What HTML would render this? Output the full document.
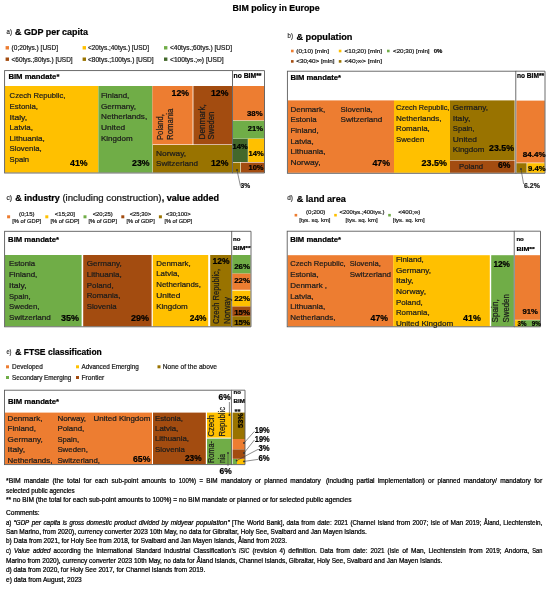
<!DOCTYPE html>
<html><head><meta charset="utf-8"><title>BIM policy in Europe</title>
<style>
html,body{margin:0;padding:0;background:#fff;}
text{stroke-width:0.22px;}
svg{display:block;font-family:"Liberation Sans",sans-serif;filter:blur(0.4px);}
</style></head><body>
<svg width="550" height="589" viewBox="0 0 550 589">
<rect width="550" height="589" fill="#fff"/>
<text x="232.6" y="10.7" font-size="9" font-weight="bold" textLength="87.0" lengthAdjust="spacingAndGlyphs" fill="#000" stroke="#000">BIM policy in Europe</text>
<text x="6.6" y="33.7" font-size="7.4" textLength="5.4" lengthAdjust="spacingAndGlyphs" fill="#333" stroke="#333">a)</text>
<text x="15.0" y="35.0" font-size="9.2" font-weight="bold" textLength="73.0" lengthAdjust="spacingAndGlyphs" fill="#000" stroke="#000">&amp; GDP per capita</text>
<rect x="5.6" y="46.1" width="3.4" height="3.4" fill="#ED7D31"/>
<text x="11.6" y="50.2" font-size="6.5" textLength="46.4" lengthAdjust="spacingAndGlyphs" fill="#1c1c1c" stroke="#1c1c1c">(0;20tys.) [USD]</text>
<rect x="82.6" y="46.1" width="3.4" height="3.4" fill="#FFC000"/>
<text x="88.0" y="50.2" font-size="6.5" textLength="61.0" lengthAdjust="spacingAndGlyphs" fill="#1c1c1c" stroke="#1c1c1c">&lt;20tys.;40tys.) [USD]</text>
<rect x="164.0" y="46.1" width="3.4" height="3.4" fill="#70AD47"/>
<text x="170.0" y="50.2" font-size="6.5" textLength="62.0" lengthAdjust="spacingAndGlyphs" fill="#1c1c1c" stroke="#1c1c1c">&lt;40tys.;60tys.) [USD]</text>
<rect x="5.6" y="57.5" width="3.4" height="3.4" fill="#A34C10"/>
<text x="11.6" y="61.6" font-size="6.5" textLength="61.0" lengthAdjust="spacingAndGlyphs" fill="#1c1c1c" stroke="#1c1c1c">&lt;60tys.;80tys.) [USD]</text>
<rect x="82.6" y="57.5" width="3.4" height="3.4" fill="#997300"/>
<text x="88.0" y="61.6" font-size="6.5" textLength="65.6" lengthAdjust="spacingAndGlyphs" fill="#1c1c1c" stroke="#1c1c1c">&lt;80tys.;100tys.) [USD]</text>
<rect x="164.0" y="57.5" width="3.4" height="3.4" fill="#43682B"/>
<text x="170.0" y="61.6" font-size="6.5" textLength="53.6" lengthAdjust="spacingAndGlyphs" fill="#1c1c1c" stroke="#1c1c1c">&lt;100tys.;∞) [USD]</text>
<rect x="5.0" y="86.0" width="93.4" height="86.6" fill="#FFC000"/>
<rect x="98.4" y="86.0" width="54.0" height="86.6" fill="#70AD47"/>
<rect x="152.4" y="86.0" width="40.2" height="58.4" fill="#ED7D31"/>
<rect x="193.4" y="86.0" width="38.6" height="58.4" fill="#A34C10"/>
<rect x="152.8" y="145.0" width="79.2" height="27.6" fill="#997300"/>
<rect x="233.0" y="86.0" width="31.5" height="34.4" fill="#ED7D31"/>
<rect x="233.0" y="120.8" width="31.5" height="17.8" fill="#70AD47"/>
<rect x="233.0" y="138.8" width="14.8" height="23.2" fill="#43682B"/>
<rect x="248.2" y="138.8" width="16.3" height="23.2" fill="#FFC000"/>
<rect x="233.0" y="162.6" width="7.4" height="10.0" fill="#997300"/>
<rect x="241.0" y="162.6" width="23.5" height="10.0" fill="#A34C10"/>
<rect x="4.6" y="70.6" width="227.9" height="102.4" fill="none" stroke="#5c5c5c" stroke-width="0.9"/>
<path d="M232.5 70.6H264.5V173.0H232.5" fill="none" stroke="#5c5c5c" stroke-width="0.9"/>
<text x="8.4" y="79.4" font-size="7.5" font-weight="bold" textLength="51.0" lengthAdjust="spacingAndGlyphs" fill="#000" stroke="#000">BIM mandate*</text>
<text x="233.6" y="78.0" font-size="6.6" font-weight="bold" textLength="27.8" lengthAdjust="spacingAndGlyphs" fill="#000" stroke="#000">no BIM**</text>
<text x="9.6" y="98.4" font-size="7.8" textLength="55.9" lengthAdjust="spacingAndGlyphs" fill="#1c1c1c" stroke="#1c1c1c">Czech Republic,</text>
<text x="9.6" y="109.0" font-size="7.8" textLength="28.4" lengthAdjust="spacingAndGlyphs" fill="#1c1c1c" stroke="#1c1c1c">Estonia,</text>
<text x="9.6" y="119.6" font-size="7.8" textLength="17.6" lengthAdjust="spacingAndGlyphs" fill="#1c1c1c" stroke="#1c1c1c">Italy,</text>
<text x="9.6" y="130.2" font-size="7.8" textLength="23.3" lengthAdjust="spacingAndGlyphs" fill="#1c1c1c" stroke="#1c1c1c">Latvia,</text>
<text x="9.6" y="140.8" font-size="7.8" textLength="35.2" lengthAdjust="spacingAndGlyphs" fill="#1c1c1c" stroke="#1c1c1c">Lithuania,</text>
<text x="9.6" y="151.4" font-size="7.8" textLength="32.1" lengthAdjust="spacingAndGlyphs" fill="#1c1c1c" stroke="#1c1c1c">Slovenia,</text>
<text x="9.6" y="162.0" font-size="7.8" textLength="19.5" lengthAdjust="spacingAndGlyphs" fill="#1c1c1c" stroke="#1c1c1c">Spain</text>
<text x="70.0" y="165.6" font-size="9.1" font-weight="bold" textLength="17.6" lengthAdjust="spacingAndGlyphs" fill="#000" stroke="#000">41%</text>
<text x="101.0" y="98.0" font-size="7.8" textLength="28.3" lengthAdjust="spacingAndGlyphs" fill="#1c1c1c" stroke="#1c1c1c">Finland,</text>
<text x="101.0" y="108.7" font-size="7.8" textLength="35.1" lengthAdjust="spacingAndGlyphs" fill="#1c1c1c" stroke="#1c1c1c">Germany,</text>
<text x="101.0" y="119.3" font-size="7.8" textLength="46.2" lengthAdjust="spacingAndGlyphs" fill="#1c1c1c" stroke="#1c1c1c">Netherlands,</text>
<text x="101.0" y="129.9" font-size="7.8" textLength="24.2" lengthAdjust="spacingAndGlyphs" fill="#1c1c1c" stroke="#1c1c1c">United</text>
<text x="101.0" y="140.6" font-size="7.8" textLength="31.6" lengthAdjust="spacingAndGlyphs" fill="#1c1c1c" stroke="#1c1c1c">Kingdom</text>
<text x="132.0" y="166.0" font-size="9.1" font-weight="bold" textLength="17.6" lengthAdjust="spacingAndGlyphs" fill="#000" stroke="#000">23%</text>
<text x="171.6" y="95.6" font-size="9.1" font-weight="bold" textLength="17.4" lengthAdjust="spacingAndGlyphs" fill="#000" stroke="#000">12%</text>
<text transform="translate(162.9,140.0) rotate(-90)" font-size="8.4" textLength="26.0" lengthAdjust="spacingAndGlyphs" fill="#1c1c1c" stroke="#1c1c1c">Poland,</text>
<text transform="translate(173.0,140.0) rotate(-90)" font-size="8.4" textLength="31.4" lengthAdjust="spacingAndGlyphs" fill="#1c1c1c" stroke="#1c1c1c">Romania</text>
<text x="211.0" y="95.6" font-size="9.1" font-weight="bold" textLength="17.4" lengthAdjust="spacingAndGlyphs" fill="#000" stroke="#000">12%</text>
<text transform="translate(204.6,139.4) rotate(-90)" font-size="8.4" textLength="35.2" lengthAdjust="spacingAndGlyphs" fill="#1c1c1c" stroke="#1c1c1c">Denmark,</text>
<text transform="translate(214.2,139.4) rotate(-90)" font-size="8.4" textLength="27.8" lengthAdjust="spacingAndGlyphs" fill="#1c1c1c" stroke="#1c1c1c">Sweden</text>
<text x="156.0" y="155.6" font-size="7.8" textLength="30.1" lengthAdjust="spacingAndGlyphs" fill="#1c1c1c" stroke="#1c1c1c">Norway,</text>
<text x="156.0" y="166.0" font-size="7.8" textLength="42.0" lengthAdjust="spacingAndGlyphs" fill="#1c1c1c" stroke="#1c1c1c">Switzerland</text>
<text x="211.0" y="166.0" font-size="9.1" font-weight="bold" textLength="17.4" lengthAdjust="spacingAndGlyphs" fill="#000" stroke="#000">12%</text>
<text x="247.0" y="115.6" font-size="7.9" font-weight="bold" textLength="15.6" lengthAdjust="spacingAndGlyphs" fill="#000" stroke="#000">38%</text>
<text x="247.8" y="130.6" font-size="7.9" font-weight="bold" textLength="15.2" lengthAdjust="spacingAndGlyphs" fill="#000" stroke="#000">21%</text>
<text x="232.6" y="149.0" font-size="7.9" font-weight="bold" textLength="15.2" lengthAdjust="spacingAndGlyphs" fill="#000" stroke="#000">14%</text>
<text x="248.5" y="156.4" font-size="7.9" font-weight="bold" textLength="15.2" lengthAdjust="spacingAndGlyphs" fill="#000" stroke="#000">14%</text>
<text x="248.5" y="169.5" font-size="7.9" font-weight="bold" textLength="15.0" lengthAdjust="spacingAndGlyphs" fill="#000" stroke="#000">10%</text>
<text x="240.6" y="187.8" font-size="8" font-weight="bold" textLength="9.6" lengthAdjust="spacingAndGlyphs" fill="#111" stroke="#111">3%</text>
<line x1="237.0" y1="170.0" x2="240.4" y2="186.0" stroke="#404040" stroke-width="0.6"/>
<circle cx="237.0" cy="170.0" r="0.9" fill="#303030"/>
<text x="287.6" y="38.3" font-size="7.4" textLength="5.4" lengthAdjust="spacingAndGlyphs" fill="#333" stroke="#333">b)</text>
<text x="296.4" y="39.6" font-size="9.2" font-weight="bold" textLength="56.0" lengthAdjust="spacingAndGlyphs" fill="#000" stroke="#000">&amp; population</text>
<rect x="291.0" y="49.7" width="2.6" height="2.6" fill="#ED7D31"/>
<text x="296.3" y="52.8" font-size="5.9" textLength="32.7" lengthAdjust="spacingAndGlyphs" fill="#1c1c1c" stroke="#1c1c1c">(0;10) [mln]</text>
<rect x="338.8" y="49.7" width="2.6" height="2.6" fill="#FFC000"/>
<text x="344.4" y="52.8" font-size="5.9" textLength="37.6" lengthAdjust="spacingAndGlyphs" fill="#1c1c1c" stroke="#1c1c1c">&lt;10;20) [mln]</text>
<rect x="387.0" y="49.7" width="2.6" height="2.6" fill="#70AD47"/>
<text x="393.0" y="52.8" font-size="5.9" textLength="36.6" lengthAdjust="spacingAndGlyphs" fill="#1c1c1c" stroke="#1c1c1c">&lt;20;30) [mln]</text>
<text x="433.8" y="53.2" font-size="6" font-weight="bold" textLength="8.6" lengthAdjust="spacingAndGlyphs" fill="#111" stroke="#111">0%</text>
<rect x="291.0" y="60.1" width="2.6" height="2.6" fill="#A34C10"/>
<text x="296.3" y="63.2" font-size="5.9" textLength="38.1" lengthAdjust="spacingAndGlyphs" fill="#1c1c1c" stroke="#1c1c1c">&lt;30;40&gt; [mln]</text>
<rect x="338.8" y="60.1" width="2.6" height="2.6" fill="#997300"/>
<text x="344.4" y="63.2" font-size="5.9" textLength="37.6" lengthAdjust="spacingAndGlyphs" fill="#1c1c1c" stroke="#1c1c1c">&lt;40;∞&gt; [mln]</text>
<rect x="288.0" y="100.4" width="106.0" height="72.4" fill="#ED7D31"/>
<rect x="394.0" y="100.4" width="56.0" height="72.4" fill="#FFC000"/>
<rect x="450.0" y="100.4" width="64.6" height="59.8" fill="#997300"/>
<rect x="450.0" y="160.6" width="64.6" height="12.2" fill="#A34C10"/>
<rect x="516.4" y="100.6" width="28.4" height="62.0" fill="#ED7D31"/>
<rect x="516.4" y="163.2" width="10.2" height="9.6" fill="#997300"/>
<rect x="527.2" y="163.2" width="17.6" height="9.6" fill="#FFC000"/>
<rect x="287.4" y="71.2" width="228.4" height="102.1" fill="none" stroke="#5c5c5c" stroke-width="0.9"/>
<path d="M515.8 71.2H545.0V173.3H515.8" fill="none" stroke="#5c5c5c" stroke-width="0.9"/>
<text x="290.4" y="79.6" font-size="7.5" font-weight="bold" textLength="50.6" lengthAdjust="spacingAndGlyphs" fill="#000" stroke="#000">BIM mandate*</text>
<text x="517.0" y="78.2" font-size="6.6" font-weight="bold" textLength="27.0" lengthAdjust="spacingAndGlyphs" fill="#000" stroke="#000">no BIM**</text>
<text x="290.4" y="111.6" font-size="7.8" textLength="34.9" lengthAdjust="spacingAndGlyphs" fill="#1c1c1c" stroke="#1c1c1c">Denmark,</text>
<text x="290.4" y="122.3" font-size="7.8" textLength="26.2" lengthAdjust="spacingAndGlyphs" fill="#1c1c1c" stroke="#1c1c1c">Estonia</text>
<text x="290.4" y="133.0" font-size="7.8" textLength="28.3" lengthAdjust="spacingAndGlyphs" fill="#1c1c1c" stroke="#1c1c1c">Finland,</text>
<text x="290.4" y="143.7" font-size="7.8" textLength="23.3" lengthAdjust="spacingAndGlyphs" fill="#1c1c1c" stroke="#1c1c1c">Latvia,</text>
<text x="290.4" y="154.4" font-size="7.8" textLength="35.2" lengthAdjust="spacingAndGlyphs" fill="#1c1c1c" stroke="#1c1c1c">Lithuania,</text>
<text x="290.4" y="165.1" font-size="7.8" textLength="30.1" lengthAdjust="spacingAndGlyphs" fill="#1c1c1c" stroke="#1c1c1c">Norway,</text>
<text x="340.6" y="111.6" font-size="7.8" textLength="32.1" lengthAdjust="spacingAndGlyphs" fill="#1c1c1c" stroke="#1c1c1c">Slovenia,</text>
<text x="340.6" y="122.2" font-size="7.8" textLength="41.7" lengthAdjust="spacingAndGlyphs" fill="#1c1c1c" stroke="#1c1c1c">Switzerland</text>
<text x="372.4" y="166.0" font-size="9.1" font-weight="bold" textLength="17.6" lengthAdjust="spacingAndGlyphs" fill="#000" stroke="#000">47%</text>
<text x="396.0" y="110.0" font-size="7.8" textLength="53.4" lengthAdjust="spacingAndGlyphs" fill="#1c1c1c" stroke="#1c1c1c">Czech Republic,</text>
<text x="396.0" y="120.5" font-size="7.8" textLength="45.6" lengthAdjust="spacingAndGlyphs" fill="#1c1c1c" stroke="#1c1c1c">Netherlands,</text>
<text x="396.0" y="131.0" font-size="7.8" textLength="33.7" lengthAdjust="spacingAndGlyphs" fill="#1c1c1c" stroke="#1c1c1c">Romania,</text>
<text x="396.0" y="141.5" font-size="7.8" textLength="28.3" lengthAdjust="spacingAndGlyphs" fill="#1c1c1c" stroke="#1c1c1c">Sweden</text>
<text x="421.6" y="166.0" font-size="9.1" font-weight="bold" textLength="25.4" lengthAdjust="spacingAndGlyphs" fill="#000" stroke="#000">23.5%</text>
<text x="452.8" y="110.3" font-size="7.8" textLength="35.1" lengthAdjust="spacingAndGlyphs" fill="#1c1c1c" stroke="#1c1c1c">Germany,</text>
<text x="452.8" y="120.8" font-size="7.8" textLength="17.6" lengthAdjust="spacingAndGlyphs" fill="#1c1c1c" stroke="#1c1c1c">Italy,</text>
<text x="452.8" y="131.3" font-size="7.8" textLength="21.7" lengthAdjust="spacingAndGlyphs" fill="#1c1c1c" stroke="#1c1c1c">Spain,</text>
<text x="452.8" y="141.8" font-size="7.8" textLength="24.2" lengthAdjust="spacingAndGlyphs" fill="#1c1c1c" stroke="#1c1c1c">United</text>
<text x="452.8" y="152.3" font-size="7.8" textLength="31.6" lengthAdjust="spacingAndGlyphs" fill="#1c1c1c" stroke="#1c1c1c">Kingdom</text>
<text x="489.0" y="150.6" font-size="9.1" font-weight="bold" textLength="25.0" lengthAdjust="spacingAndGlyphs" fill="#000" stroke="#000">23.5%</text>
<text x="459.0" y="168.8" font-size="7.8" textLength="24.0" lengthAdjust="spacingAndGlyphs" fill="#1c1c1c" stroke="#1c1c1c">Poland</text>
<text x="498.0" y="167.8" font-size="9.1" font-weight="bold" textLength="12.4" lengthAdjust="spacingAndGlyphs" fill="#000" stroke="#000">6%</text>
<text x="522.8" y="157.0" font-size="8" font-weight="bold" textLength="22.8" lengthAdjust="spacingAndGlyphs" fill="#000" stroke="#000">84.4%</text>
<text x="528.0" y="171.4" font-size="8" font-weight="bold" textLength="17.6" lengthAdjust="spacingAndGlyphs" fill="#000" stroke="#000">9.4%</text>
<text x="524.0" y="188.0" font-size="7.2" font-weight="bold" textLength="15.8" lengthAdjust="spacingAndGlyphs" fill="#1a1a1a" stroke="#1a1a1a">6.2%</text>
<line x1="521.0" y1="169.0" x2="523.6" y2="184.0" stroke="#404040" stroke-width="0.6"/>
<circle cx="521.0" cy="169.0" r="0.9" fill="#303030"/>
<text x="6.4" y="199.6" font-size="7.4" textLength="5.6" lengthAdjust="spacingAndGlyphs" fill="#333" stroke="#333">c)</text>
<text x="15.3" y="200.9" font-size="9.2" font-weight="bold" textLength="44.5" lengthAdjust="spacingAndGlyphs" fill="#000" stroke="#000">&amp; industry</text>
<text x="62.4" y="200.9" font-size="9.2" textLength="99.2" lengthAdjust="spacingAndGlyphs" fill="#151515" stroke="#151515">(including construction)</text>
<text x="161.8" y="200.9" font-size="9.2" font-weight="bold" textLength="57.2" lengthAdjust="spacingAndGlyphs" fill="#000" stroke="#000">, value added</text>
<rect x="7.1" y="215.3" width="3.0" height="3.0" fill="#ED7D31"/>
<text x="26.7" y="215.5" font-size="5.9" text-anchor="middle" textLength="15.6" lengthAdjust="spacingAndGlyphs" fill="#1c1c1c" stroke="#1c1c1c">(0;15)</text>
<text x="12.2" y="223.3" font-size="5.9" textLength="29.0" lengthAdjust="spacingAndGlyphs" fill="#1c1c1c" stroke="#1c1c1c">[% of GDP]</text>
<rect x="45.3" y="215.3" width="3.0" height="3.0" fill="#FFC000"/>
<text x="64.9" y="215.5" font-size="5.9" text-anchor="middle" textLength="20.2" lengthAdjust="spacingAndGlyphs" fill="#1c1c1c" stroke="#1c1c1c">&lt;15;20]</text>
<text x="50.4" y="223.3" font-size="5.9" textLength="29.0" lengthAdjust="spacingAndGlyphs" fill="#1c1c1c" stroke="#1c1c1c">[% of GDP]</text>
<rect x="83.5" y="215.3" width="3.0" height="3.0" fill="#70AD47"/>
<text x="102.7" y="215.5" font-size="5.9" text-anchor="middle" textLength="20.1" lengthAdjust="spacingAndGlyphs" fill="#1c1c1c" stroke="#1c1c1c">&lt;20;25)</text>
<text x="88.5" y="223.3" font-size="5.9" textLength="28.5" lengthAdjust="spacingAndGlyphs" fill="#1c1c1c" stroke="#1c1c1c">[% of GDP]</text>
<rect x="121.3" y="215.3" width="3.0" height="3.0" fill="#A34C10"/>
<text x="140.4" y="215.5" font-size="5.9" text-anchor="middle" textLength="21.4" lengthAdjust="spacingAndGlyphs" fill="#1c1c1c" stroke="#1c1c1c">&lt;25;30&gt;</text>
<text x="126.5" y="223.3" font-size="5.9" textLength="28.2" lengthAdjust="spacingAndGlyphs" fill="#1c1c1c" stroke="#1c1c1c">[% of GDP]</text>
<rect x="158.9" y="215.3" width="3.0" height="3.0" fill="#997300"/>
<text x="178.4" y="215.5" font-size="5.9" text-anchor="middle" textLength="24.7" lengthAdjust="spacingAndGlyphs" fill="#1c1c1c" stroke="#1c1c1c">&lt;30;100&gt;</text>
<text x="164.4" y="223.3" font-size="5.9" textLength="27.9" lengthAdjust="spacingAndGlyphs" fill="#1c1c1c" stroke="#1c1c1c">[% of GDP]</text>
<rect x="5.0" y="255.0" width="76.6" height="71.4" fill="#70AD47"/>
<rect x="83.2" y="255.0" width="68.4" height="71.4" fill="#A34C10"/>
<rect x="152.8" y="255.0" width="55.4" height="71.4" fill="#FFC000"/>
<rect x="210.2" y="255.0" width="21.0" height="71.4" fill="#997300"/>
<rect x="232.2" y="255.0" width="18.4" height="18.6" fill="#70AD47"/>
<rect x="232.2" y="273.6" width="18.4" height="16.2" fill="#ED7D31"/>
<rect x="232.2" y="290.6" width="18.4" height="15.9" fill="#FFC000"/>
<rect x="232.2" y="306.5" width="18.4" height="9.7" fill="#A34C10"/>
<rect x="232.2" y="316.2" width="18.4" height="10.2" fill="#997300"/>
<rect x="4.6" y="231.3" width="227.1" height="95.5" fill="none" stroke="#5c5c5c" stroke-width="0.9"/>
<path d="M231.7 231.3H251.0V326.8H231.7" fill="none" stroke="#5c5c5c" stroke-width="0.9"/>
<text x="8.1" y="242.3" font-size="7.5" font-weight="bold" textLength="50.9" lengthAdjust="spacingAndGlyphs" fill="#000" stroke="#000">BIM mandate*</text>
<text x="233.0" y="241.4" font-size="6" font-weight="bold" fill="#000" stroke="#000">no</text>
<text x="233.0" y="250.4" font-size="6" font-weight="bold" textLength="17.6" lengthAdjust="spacingAndGlyphs" fill="#000" stroke="#000">BIM**</text>
<text x="9.0" y="266.3" font-size="7.8" textLength="26.2" lengthAdjust="spacingAndGlyphs" fill="#1c1c1c" stroke="#1c1c1c">Estonia</text>
<text x="9.0" y="277.1" font-size="7.8" textLength="28.3" lengthAdjust="spacingAndGlyphs" fill="#1c1c1c" stroke="#1c1c1c">Finland,</text>
<text x="9.0" y="287.8" font-size="7.8" textLength="17.6" lengthAdjust="spacingAndGlyphs" fill="#1c1c1c" stroke="#1c1c1c">Italy,</text>
<text x="9.0" y="298.6" font-size="7.8" textLength="21.7" lengthAdjust="spacingAndGlyphs" fill="#1c1c1c" stroke="#1c1c1c">Spain,</text>
<text x="9.0" y="309.3" font-size="7.8" textLength="30.5" lengthAdjust="spacingAndGlyphs" fill="#1c1c1c" stroke="#1c1c1c">Sweden,</text>
<text x="9.0" y="320.1" font-size="7.8" textLength="41.8" lengthAdjust="spacingAndGlyphs" fill="#1c1c1c" stroke="#1c1c1c">Switzerland</text>
<text x="61.0" y="320.7" font-size="9.1" font-weight="bold" textLength="18.0" lengthAdjust="spacingAndGlyphs" fill="#000" stroke="#000">35%</text>
<text x="86.7" y="266.3" font-size="7.8" textLength="35.1" lengthAdjust="spacingAndGlyphs" fill="#1c1c1c" stroke="#1c1c1c">Germany,</text>
<text x="86.7" y="277.0" font-size="7.8" textLength="35.2" lengthAdjust="spacingAndGlyphs" fill="#1c1c1c" stroke="#1c1c1c">Lithuania,</text>
<text x="86.7" y="287.7" font-size="7.8" textLength="26.9" lengthAdjust="spacingAndGlyphs" fill="#1c1c1c" stroke="#1c1c1c">Poland,</text>
<text x="86.7" y="298.4" font-size="7.8" textLength="33.7" lengthAdjust="spacingAndGlyphs" fill="#1c1c1c" stroke="#1c1c1c">Romania,</text>
<text x="86.7" y="309.1" font-size="7.8" textLength="29.9" lengthAdjust="spacingAndGlyphs" fill="#1c1c1c" stroke="#1c1c1c">Slovenia</text>
<text x="131.0" y="320.5" font-size="9.1" font-weight="bold" textLength="18.0" lengthAdjust="spacingAndGlyphs" fill="#000" stroke="#000">29%</text>
<text x="156.2" y="265.7" font-size="7.8" textLength="34.6" lengthAdjust="spacingAndGlyphs" fill="#1c1c1c" stroke="#1c1c1c">Denmark,</text>
<text x="156.2" y="276.4" font-size="7.8" textLength="23.3" lengthAdjust="spacingAndGlyphs" fill="#1c1c1c" stroke="#1c1c1c">Latvia,</text>
<text x="156.2" y="287.1" font-size="7.8" textLength="44.8" lengthAdjust="spacingAndGlyphs" fill="#1c1c1c" stroke="#1c1c1c">Netherlands,</text>
<text x="156.2" y="297.8" font-size="7.8" textLength="24.2" lengthAdjust="spacingAndGlyphs" fill="#1c1c1c" stroke="#1c1c1c">United</text>
<text x="156.2" y="308.5" font-size="7.8" textLength="31.6" lengthAdjust="spacingAndGlyphs" fill="#1c1c1c" stroke="#1c1c1c">Kingdom</text>
<text x="189.8" y="320.7" font-size="9.1" font-weight="bold" textLength="16.7" lengthAdjust="spacingAndGlyphs" fill="#000" stroke="#000">24%</text>
<text x="212.5" y="264.3" font-size="8.8" font-weight="bold" textLength="17.0" lengthAdjust="spacingAndGlyphs" fill="#000" stroke="#000">12%</text>
<text transform="translate(218.5,324.0) rotate(-90)" font-size="8.4" textLength="55.0" lengthAdjust="spacingAndGlyphs" fill="#1c1c1c" stroke="#1c1c1c">Czech Republic,</text>
<text transform="translate(229.6,324.0) rotate(-90)" font-size="8.4" textLength="27.0" lengthAdjust="spacingAndGlyphs" fill="#1c1c1c" stroke="#1c1c1c">Norway</text>
<text x="234.2" y="269.4" font-size="7.4" font-weight="bold" textLength="15.8" lengthAdjust="spacingAndGlyphs" fill="#000" stroke="#000">26%</text>
<text x="234.2" y="283.0" font-size="7.4" font-weight="bold" textLength="15.8" lengthAdjust="spacingAndGlyphs" fill="#000" stroke="#000">22%</text>
<text x="234.2" y="301.4" font-size="7.4" font-weight="bold" textLength="15.8" lengthAdjust="spacingAndGlyphs" fill="#000" stroke="#000">22%</text>
<text x="234.2" y="315.2" font-size="7.4" font-weight="bold" textLength="15.8" lengthAdjust="spacingAndGlyphs" fill="#000" stroke="#000">15%</text>
<text x="234.2" y="324.8" font-size="7.4" font-weight="bold" textLength="15.8" lengthAdjust="spacingAndGlyphs" fill="#000" stroke="#000">15%</text>
<text x="287.3" y="200.3" font-size="7.4" textLength="5.7" lengthAdjust="spacingAndGlyphs" fill="#333" stroke="#333">d)</text>
<text x="296.7" y="201.6" font-size="9.2" font-weight="bold" textLength="49.1" lengthAdjust="spacingAndGlyphs" fill="#000" stroke="#000">&amp; land area</text>
<rect x="294.6" y="213.9" width="2.6" height="2.6" fill="#ED7D31"/>
<text x="315.7" y="213.6" font-size="5.9" text-anchor="middle" textLength="19.4" lengthAdjust="spacingAndGlyphs" fill="#1c1c1c" stroke="#1c1c1c">(0;200)</text>
<text x="299.2" y="222.0" font-size="5.9" textLength="31.2" lengthAdjust="spacingAndGlyphs" fill="#1c1c1c" stroke="#1c1c1c">[tys. sq. km]</text>
<rect x="334.2" y="213.9" width="2.6" height="2.6" fill="#FFC000"/>
<text x="362.0" y="213.6" font-size="5.9" text-anchor="middle" textLength="45.0" lengthAdjust="spacingAndGlyphs" fill="#1c1c1c" stroke="#1c1c1c">&lt;200tys.;400tys.)</text>
<text x="345.6" y="222.0" font-size="5.9" textLength="32.2" lengthAdjust="spacingAndGlyphs" fill="#1c1c1c" stroke="#1c1c1c">[tys. sq. km]</text>
<rect x="388.2" y="213.9" width="2.6" height="2.6" fill="#70AD47"/>
<text x="409.3" y="213.6" font-size="5.9" text-anchor="middle" textLength="22.3" lengthAdjust="spacingAndGlyphs" fill="#1c1c1c" stroke="#1c1c1c">&lt;400;∞)</text>
<text x="392.8" y="222.0" font-size="5.9" textLength="31.8" lengthAdjust="spacingAndGlyphs" fill="#1c1c1c" stroke="#1c1c1c">[tys. sq. km]</text>
<rect x="287.6" y="255.2" width="105.6" height="71.2" fill="#ED7D31"/>
<rect x="393.2" y="255.2" width="96.6" height="71.2" fill="#FFC000"/>
<rect x="491.2" y="255.2" width="22.6" height="71.2" fill="#70AD47"/>
<rect x="515.0" y="255.2" width="25.0" height="64.6" fill="#ED7D31"/>
<rect x="515.0" y="320.2" width="5.8" height="6.4" fill="#FFC000"/>
<rect x="520.8" y="320.2" width="19.2" height="6.4" fill="#70AD47"/>
<rect x="287.2" y="231.2" width="227.0" height="95.6" fill="none" stroke="#5c5c5c" stroke-width="0.9"/>
<path d="M514.2 231.2H540.5V326.8H514.2" fill="none" stroke="#5c5c5c" stroke-width="0.9"/>
<text x="290.2" y="242.3" font-size="7.5" font-weight="bold" textLength="50.8" lengthAdjust="spacingAndGlyphs" fill="#000" stroke="#000">BIM mandate*</text>
<text x="516.4" y="241.3" font-size="6" font-weight="bold" fill="#000" stroke="#000">no</text>
<text x="516.4" y="250.6" font-size="6" font-weight="bold" textLength="18.4" lengthAdjust="spacingAndGlyphs" fill="#000" stroke="#000">BIM**</text>
<text x="290.2" y="266.3" font-size="7.8" textLength="55.4" lengthAdjust="spacingAndGlyphs" fill="#1c1c1c" stroke="#1c1c1c">Czech Republic,</text>
<text x="290.2" y="277.1" font-size="7.8" textLength="28.4" lengthAdjust="spacingAndGlyphs" fill="#1c1c1c" stroke="#1c1c1c">Estonia,</text>
<text x="290.2" y="287.8" font-size="7.8" textLength="36.9" lengthAdjust="spacingAndGlyphs" fill="#1c1c1c" stroke="#1c1c1c">Denmark ,</text>
<text x="290.2" y="298.6" font-size="7.8" textLength="23.3" lengthAdjust="spacingAndGlyphs" fill="#1c1c1c" stroke="#1c1c1c">Latvia,</text>
<text x="290.2" y="309.3" font-size="7.8" textLength="35.2" lengthAdjust="spacingAndGlyphs" fill="#1c1c1c" stroke="#1c1c1c">Lithuania,</text>
<text x="290.2" y="320.1" font-size="7.8" textLength="45.2" lengthAdjust="spacingAndGlyphs" fill="#1c1c1c" stroke="#1c1c1c">Netherlands,</text>
<text x="349.7" y="266.3" font-size="7.8" textLength="31.1" lengthAdjust="spacingAndGlyphs" fill="#1c1c1c" stroke="#1c1c1c">Slovenia,</text>
<text x="349.7" y="277.0" font-size="7.8" textLength="41.4" lengthAdjust="spacingAndGlyphs" fill="#1c1c1c" stroke="#1c1c1c">Switzerland</text>
<text x="370.6" y="321.0" font-size="9.1" font-weight="bold" textLength="17.4" lengthAdjust="spacingAndGlyphs" fill="#000" stroke="#000">47%</text>
<text x="395.9" y="262.3" font-size="7.8" textLength="27.9" lengthAdjust="spacingAndGlyphs" fill="#1c1c1c" stroke="#1c1c1c">Finland,</text>
<text x="395.9" y="272.9" font-size="7.8" textLength="35.1" lengthAdjust="spacingAndGlyphs" fill="#1c1c1c" stroke="#1c1c1c">Germany,</text>
<text x="395.9" y="283.4" font-size="7.8" textLength="17.6" lengthAdjust="spacingAndGlyphs" fill="#1c1c1c" stroke="#1c1c1c">Italy,</text>
<text x="395.9" y="293.9" font-size="7.8" textLength="30.1" lengthAdjust="spacingAndGlyphs" fill="#1c1c1c" stroke="#1c1c1c">Norway,</text>
<text x="395.9" y="304.5" font-size="7.8" textLength="26.9" lengthAdjust="spacingAndGlyphs" fill="#1c1c1c" stroke="#1c1c1c">Poland,</text>
<text x="395.9" y="315.1" font-size="7.8" textLength="33.7" lengthAdjust="spacingAndGlyphs" fill="#1c1c1c" stroke="#1c1c1c">Romania,</text>
<text x="395.9" y="325.6" font-size="7.8" textLength="57.4" lengthAdjust="spacingAndGlyphs" fill="#1c1c1c" stroke="#1c1c1c">United Kingdom</text>
<text x="463.0" y="321.0" font-size="9.1" font-weight="bold" textLength="17.8" lengthAdjust="spacingAndGlyphs" fill="#000" stroke="#000">41%</text>
<text x="493.4" y="267.0" font-size="9" font-weight="bold" textLength="16.6" lengthAdjust="spacingAndGlyphs" fill="#000" stroke="#000">12%</text>
<text transform="translate(498.0,322.4) rotate(-90)" font-size="8.4" textLength="23.1" lengthAdjust="spacingAndGlyphs" fill="#1c1c1c" stroke="#1c1c1c">Spain,</text>
<text transform="translate(508.7,322.4) rotate(-90)" font-size="8.4" textLength="28.2" lengthAdjust="spacingAndGlyphs" fill="#1c1c1c" stroke="#1c1c1c">Sweden</text>
<text x="522.4" y="313.6" font-size="8" font-weight="bold" textLength="15.4" lengthAdjust="spacingAndGlyphs" fill="#000" stroke="#000">91%</text>
<text x="517.6" y="326.4" font-size="7.6" font-weight="bold" textLength="9.0" lengthAdjust="spacingAndGlyphs" fill="#000" stroke="#000">3%</text>
<text x="531.8" y="326.4" font-size="7.6" font-weight="bold" textLength="9.0" lengthAdjust="spacingAndGlyphs" fill="#000" stroke="#000">9%</text>
<text x="6.4" y="353.5" font-size="7.4" textLength="5.1" lengthAdjust="spacingAndGlyphs" fill="#333" stroke="#333">e)</text>
<text x="15.3" y="354.8" font-size="9.2" font-weight="bold" textLength="86.5" lengthAdjust="spacingAndGlyphs" fill="#000" stroke="#000">&amp; FTSE classification</text>
<rect x="6.0" y="365.3" width="3.0" height="3.0" fill="#ED7D31"/>
<text x="12.0" y="369.0" font-size="6.5" textLength="30.7" lengthAdjust="spacingAndGlyphs" fill="#1c1c1c" stroke="#1c1c1c">Developed</text>
<rect x="76.0" y="365.3" width="3.0" height="3.0" fill="#FFC000"/>
<text x="81.6" y="369.0" font-size="6.5" textLength="57.1" lengthAdjust="spacingAndGlyphs" fill="#1c1c1c" stroke="#1c1c1c">Advanced Emerging</text>
<rect x="157.5" y="365.3" width="3.0" height="3.0" fill="#997300"/>
<text x="162.8" y="369.0" font-size="6.5" textLength="54.2" lengthAdjust="spacingAndGlyphs" fill="#1c1c1c" stroke="#1c1c1c">None of the above</text>
<rect x="6.0" y="376.0" width="3.0" height="3.0" fill="#70AD47"/>
<text x="12.0" y="379.8" font-size="6.5" textLength="59.2" lengthAdjust="spacingAndGlyphs" fill="#1c1c1c" stroke="#1c1c1c">Secondary Emerging</text>
<rect x="76.0" y="376.0" width="3.0" height="3.0" fill="#A34C10"/>
<text x="81.6" y="379.8" font-size="6.5" textLength="22.7" lengthAdjust="spacingAndGlyphs" fill="#1c1c1c" stroke="#1c1c1c">Frontier</text>
<rect x="5.0" y="412.6" width="147.0" height="51.6" fill="#ED7D31"/>
<rect x="153.0" y="412.6" width="52.8" height="51.6" fill="#A34C10"/>
<rect x="207.0" y="412.6" width="24.6" height="25.0" fill="#FFC000"/>
<rect x="207.0" y="438.6" width="24.6" height="25.6" fill="#70AD47"/>
<rect x="232.6" y="412.6" width="12.4" height="26.4" fill="#997300"/>
<rect x="232.6" y="439.0" width="12.4" height="10.4" fill="#ED7D31"/>
<rect x="232.6" y="449.4" width="12.4" height="9.4" fill="#A34C10"/>
<rect x="232.6" y="459.0" width="4.4" height="5.2" fill="#70AD47"/>
<rect x="237.0" y="459.0" width="8.0" height="5.2" fill="#FFC000"/>
<rect x="4.5" y="390.2" width="226.9" height="74.4" fill="none" stroke="#5c5c5c" stroke-width="0.9"/>
<path d="M231.4 390.2H245.0V464.6H231.4" fill="none" stroke="#5c5c5c" stroke-width="0.9"/>
<text x="8.0" y="403.6" font-size="7.5" font-weight="bold" textLength="51.0" lengthAdjust="spacingAndGlyphs" fill="#000" stroke="#000">BIM mandate*</text>
<text x="233.6" y="393.6" font-size="6" font-weight="bold" fill="#000" stroke="#000">no</text>
<text x="233.6" y="402.6" font-size="6" font-weight="bold" textLength="11.4" lengthAdjust="spacingAndGlyphs" fill="#000" stroke="#000">BIM</text>
<text x="234.6" y="414.4" font-size="8" font-weight="bold" textLength="6.0" lengthAdjust="spacingAndGlyphs" fill="#000" stroke="#000">**</text>
<text x="7.6" y="420.6" font-size="7.8" textLength="34.8" lengthAdjust="spacingAndGlyphs" fill="#1c1c1c" stroke="#1c1c1c">Denmark,</text>
<text x="7.6" y="431.2" font-size="7.8" textLength="28.3" lengthAdjust="spacingAndGlyphs" fill="#1c1c1c" stroke="#1c1c1c">Finland,</text>
<text x="7.6" y="441.8" font-size="7.8" textLength="35.1" lengthAdjust="spacingAndGlyphs" fill="#1c1c1c" stroke="#1c1c1c">Germany,</text>
<text x="7.6" y="452.4" font-size="7.8" textLength="17.6" lengthAdjust="spacingAndGlyphs" fill="#1c1c1c" stroke="#1c1c1c">Italy,</text>
<text x="7.6" y="463.0" font-size="7.8" textLength="44.8" lengthAdjust="spacingAndGlyphs" fill="#1c1c1c" stroke="#1c1c1c">Netherlands,</text>
<text x="57.4" y="420.6" font-size="7.8" textLength="28.6" lengthAdjust="spacingAndGlyphs" fill="#1c1c1c" stroke="#1c1c1c">Norway,</text>
<text x="57.4" y="431.2" font-size="7.8" textLength="26.9" lengthAdjust="spacingAndGlyphs" fill="#1c1c1c" stroke="#1c1c1c">Poland,</text>
<text x="57.4" y="441.8" font-size="7.8" textLength="21.7" lengthAdjust="spacingAndGlyphs" fill="#1c1c1c" stroke="#1c1c1c">Spain,</text>
<text x="57.4" y="452.4" font-size="7.8" textLength="30.5" lengthAdjust="spacingAndGlyphs" fill="#1c1c1c" stroke="#1c1c1c">Sweden,</text>
<text x="57.4" y="463.0" font-size="7.8" textLength="42.6" lengthAdjust="spacingAndGlyphs" fill="#1c1c1c" stroke="#1c1c1c">Switzerland,</text>
<text x="93.6" y="420.6" font-size="7.8" textLength="56.8" lengthAdjust="spacingAndGlyphs" fill="#1c1c1c" stroke="#1c1c1c">United Kingdom</text>
<text x="133.0" y="461.6" font-size="9.1" font-weight="bold" textLength="17.4" lengthAdjust="spacingAndGlyphs" fill="#000" stroke="#000">65%</text>
<text x="155.0" y="420.6" font-size="7.8" textLength="28.0" lengthAdjust="spacingAndGlyphs" fill="#1c1c1c" stroke="#1c1c1c">Estonia,</text>
<text x="155.0" y="431.0" font-size="7.8" textLength="23.3" lengthAdjust="spacingAndGlyphs" fill="#1c1c1c" stroke="#1c1c1c">Latvia,</text>
<text x="155.0" y="441.4" font-size="7.8" textLength="34.0" lengthAdjust="spacingAndGlyphs" fill="#1c1c1c" stroke="#1c1c1c">Lithuania,</text>
<text x="155.0" y="451.8" font-size="7.8" textLength="29.9" lengthAdjust="spacingAndGlyphs" fill="#1c1c1c" stroke="#1c1c1c">Slovenia</text>
<text x="185.0" y="461.2" font-size="9.1" font-weight="bold" textLength="16.6" lengthAdjust="spacingAndGlyphs" fill="#000" stroke="#000">23%</text>
<text transform="translate(214.0,436.6) rotate(-90)" font-size="8.4" textLength="21.6" lengthAdjust="spacingAndGlyphs" fill="#1c1c1c" stroke="#1c1c1c">Czech</text>
<text transform="translate(225.0,436.6) rotate(-90)" font-size="8.4" textLength="29.6" lengthAdjust="spacingAndGlyphs" fill="#1c1c1c" stroke="#1c1c1c">Republic</text>
<text transform="translate(214.4,463.0) rotate(-90)" font-size="8.4" textLength="22.0" lengthAdjust="spacingAndGlyphs" fill="#1c1c1c" stroke="#1c1c1c">Roma-</text>
<text transform="translate(225.0,463.0) rotate(-90)" font-size="8.4" textLength="9.0" lengthAdjust="spacingAndGlyphs" fill="#1c1c1c" stroke="#1c1c1c">nia</text>
<text x="218.5" y="400.0" font-size="9" font-weight="bold" textLength="12.1" lengthAdjust="spacingAndGlyphs" fill="#000" stroke="#000">6%</text>
<line x1="229.4" y1="402.0" x2="229.4" y2="415.0" stroke="#404040" stroke-width="0.6"/>
<circle cx="229.4" cy="415.0" r="0.9" fill="#303030"/>
<text x="219.6" y="473.8" font-size="9" font-weight="bold" textLength="12.2" lengthAdjust="spacingAndGlyphs" fill="#000" stroke="#000">6%</text>
<line x1="228.0" y1="453.0" x2="228.0" y2="466.0" stroke="#404040" stroke-width="0.6"/>
<circle cx="228.0" cy="453.0" r="0.9" fill="#303030"/>
<text transform="translate(243.0,428.0) rotate(-90)" font-size="7.2" font-weight="bold" textLength="15.0" lengthAdjust="spacingAndGlyphs" fill="#000" stroke="#000">53%</text>
<text x="254.8" y="433.0" font-size="8.4" font-weight="bold" textLength="14.9" lengthAdjust="spacingAndGlyphs" fill="#000" stroke="#000">19%</text>
<text x="254.8" y="441.8" font-size="8.4" font-weight="bold" textLength="14.9" lengthAdjust="spacingAndGlyphs" fill="#000" stroke="#000">19%</text>
<text x="258.6" y="450.8" font-size="8.4" font-weight="bold" textLength="11.1" lengthAdjust="spacingAndGlyphs" fill="#000" stroke="#000">3%</text>
<text x="258.6" y="461.4" font-size="8.4" font-weight="bold" textLength="11.1" lengthAdjust="spacingAndGlyphs" fill="#000" stroke="#000">6%</text>
<line x1="254.4" y1="431.4" x2="244.0" y2="443.0" stroke="#404040" stroke-width="0.6"/>
<circle cx="244.0" cy="443.0" r="0.9" fill="#303030"/>
<line x1="254.4" y1="440.0" x2="244.0" y2="453.0" stroke="#404040" stroke-width="0.6"/>
<circle cx="244.0" cy="453.0" r="0.9" fill="#303030"/>
<line x1="258.0" y1="449.4" x2="236.6" y2="460.6" stroke="#404040" stroke-width="0.6"/>
<circle cx="236.6" cy="460.6" r="0.9" fill="#303030"/>
<line x1="258.0" y1="459.4" x2="244.0" y2="461.4" stroke="#404040" stroke-width="0.6"/>
<circle cx="244.0" cy="461.4" r="0.9" fill="#303030"/>
<text y="483.0" font-size="6.4" fill="#000" stroke="#000"><tspan x="6.00" textLength="14.74" lengthAdjust="spacingAndGlyphs">*BIM</tspan> <tspan x="24.09" textLength="24.97" lengthAdjust="spacingAndGlyphs">mandate</tspan> <tspan x="52.40" textLength="11.39" lengthAdjust="spacingAndGlyphs">(the</tspan> <tspan x="67.14" textLength="13.07" lengthAdjust="spacingAndGlyphs">total</tspan> <tspan x="83.55" textLength="8.10" lengthAdjust="spacingAndGlyphs">for</tspan> <tspan x="95.00" textLength="13.21" lengthAdjust="spacingAndGlyphs">each</tspan> <tspan x="111.55" textLength="26.67" lengthAdjust="spacingAndGlyphs">sub-point</tspan> <tspan x="141.56" textLength="24.57" lengthAdjust="spacingAndGlyphs">amounts</tspan> <tspan x="169.47" textLength="5.91" lengthAdjust="spacingAndGlyphs">to</tspan> <tspan x="178.73" textLength="17.42" lengthAdjust="spacingAndGlyphs">100%)</tspan> <tspan x="199.49" textLength="3.42" lengthAdjust="spacingAndGlyphs">=</tspan> <tspan x="206.25" textLength="11.33" lengthAdjust="spacingAndGlyphs">BIM</tspan> <tspan x="220.93" textLength="30.67" lengthAdjust="spacingAndGlyphs">mandatory</tspan> <tspan x="254.94" textLength="6.01" lengthAdjust="spacingAndGlyphs">or</tspan> <tspan x="264.29" textLength="22.68" lengthAdjust="spacingAndGlyphs">planned</tspan> <tspan x="290.32" textLength="32.22" lengthAdjust="spacingAndGlyphs">mandatory </tspan> <tspan x="325.88" textLength="27.33" lengthAdjust="spacingAndGlyphs">(including</tspan> <tspan x="356.56" textLength="18.01" lengthAdjust="spacingAndGlyphs">partial</tspan> <tspan x="377.91" textLength="46.89" lengthAdjust="spacingAndGlyphs">implementation)</tspan> <tspan x="428.14" textLength="6.01" lengthAdjust="spacingAndGlyphs">or</tspan> <tspan x="437.50" textLength="22.68" lengthAdjust="spacingAndGlyphs">planned</tspan> <tspan x="463.52" textLength="33.32" lengthAdjust="spacingAndGlyphs">mandatory/</tspan> <tspan x="500.18" textLength="30.67" lengthAdjust="spacingAndGlyphs">mandatory</tspan> <tspan x="534.20" textLength="8.10" lengthAdjust="spacingAndGlyphs">for</tspan></text>
<text x="6.0" y="492.5" font-size="6.4" textLength="68.7" lengthAdjust="spacingAndGlyphs" fill="#000" stroke="#000">selected public agencies</text>
<text x="6.0" y="502.3" font-size="6.4" textLength="345.5" lengthAdjust="spacingAndGlyphs" fill="#000" stroke="#000">** no BIM  (the total for each sub-point amounts to 100%) = no BIM mandate or planned or for selected public agencies</text>
<text x="6.0" y="515.2" font-size="6.4" textLength="33.7" lengthAdjust="spacingAndGlyphs" fill="#000" stroke="#000">Comments:</text>
<text y="524.5" font-size="6.4" fill="#000" stroke="#000"><tspan x="6.00" textLength="5.36" lengthAdjust="spacingAndGlyphs">a)</tspan> <tspan x="13.75" font-style="italic" textLength="15.52" lengthAdjust="spacingAndGlyphs">“GDP</tspan> <tspan x="31.65" font-style="italic" textLength="9.41" lengthAdjust="spacingAndGlyphs">per</tspan> <tspan x="43.44" font-style="italic" textLength="16.94" lengthAdjust="spacingAndGlyphs">capita</tspan> <tspan x="62.77" font-style="italic" textLength="4.25" lengthAdjust="spacingAndGlyphs">is</tspan> <tspan x="69.40" font-style="italic" textLength="14.60" lengthAdjust="spacingAndGlyphs">gross</tspan> <tspan x="86.39" font-style="italic" textLength="25.57" lengthAdjust="spacingAndGlyphs">domestic</tspan> <tspan x="114.34" font-style="italic" textLength="22.01" lengthAdjust="spacingAndGlyphs">product</tspan> <tspan x="138.73" font-style="italic" textLength="20.46" lengthAdjust="spacingAndGlyphs">divided</tspan> <tspan x="161.58" font-style="italic" textLength="6.71" lengthAdjust="spacingAndGlyphs">by</tspan> <tspan x="170.67" font-style="italic" textLength="22.86" lengthAdjust="spacingAndGlyphs">midyear</tspan> <tspan x="195.91" font-style="italic" textLength="33.79" lengthAdjust="spacingAndGlyphs">population”</tspan> <tspan x="232.08" textLength="12.46" lengthAdjust="spacingAndGlyphs">[The</tspan> <tspan x="246.93" textLength="17.29" lengthAdjust="spacingAndGlyphs">World</tspan> <tspan x="266.59" textLength="17.56" lengthAdjust="spacingAndGlyphs">Bank],</tspan> <tspan x="286.54" textLength="12.47" lengthAdjust="spacingAndGlyphs">data</tspan> <tspan x="301.39" textLength="13.58" lengthAdjust="spacingAndGlyphs">from</tspan> <tspan x="317.35" textLength="14.44" lengthAdjust="spacingAndGlyphs">date:</tspan> <tspan x="334.17" textLength="13.91" lengthAdjust="spacingAndGlyphs">2021</tspan> <tspan x="350.47" textLength="24.81" lengthAdjust="spacingAndGlyphs">(Channel</tspan> <tspan x="377.66" textLength="16.47" lengthAdjust="spacingAndGlyphs">Island</tspan> <tspan x="396.51" textLength="13.58" lengthAdjust="spacingAndGlyphs">from</tspan> <tspan x="412.48" textLength="15.75" lengthAdjust="spacingAndGlyphs">2007;</tspan> <tspan x="430.61" textLength="9.40" lengthAdjust="spacingAndGlyphs">Isle</tspan> <tspan x="442.39" textLength="5.71" lengthAdjust="spacingAndGlyphs">of</tspan> <tspan x="450.48" textLength="12.75" lengthAdjust="spacingAndGlyphs">Man</tspan> <tspan x="465.61" textLength="15.75" lengthAdjust="spacingAndGlyphs">2019;</tspan> <tspan x="483.74" textLength="17.20" lengthAdjust="spacingAndGlyphs">Åland,</tspan> <tspan x="503.33" textLength="38.97" lengthAdjust="spacingAndGlyphs">Liechtenstein,</tspan></text>
<text x="6.0" y="534.0" font-size="6.4" textLength="360.7" lengthAdjust="spacingAndGlyphs" fill="#000" stroke="#000">San Marino, from 2020), currency converter 2023 10th May, no data for Gibraltar, Holy See, Svalbard and Jan Mayen Islands.</text>
<text x="6.0" y="543.4" font-size="6.4" textLength="281.0" lengthAdjust="spacingAndGlyphs" fill="#000" stroke="#000">b) Data from 2021, for Holy See from 2018, for Svalbard and Jan Mayen Islands, Åland from 2023.</text>
<text y="553.0" font-size="6.4" fill="#000" stroke="#000"><tspan x="6.00" textLength="4.98" lengthAdjust="spacingAndGlyphs">c)</tspan> <tspan x="14.10" font-style="italic" textLength="15.76" lengthAdjust="spacingAndGlyphs">Value</tspan> <tspan x="32.99" font-style="italic" textLength="17.51" lengthAdjust="spacingAndGlyphs">added</tspan> <tspan x="53.62" textLength="27.10" lengthAdjust="spacingAndGlyphs">according</tspan> <tspan x="83.84" textLength="9.32" lengthAdjust="spacingAndGlyphs">the</tspan> <tspan x="96.28" textLength="36.27" lengthAdjust="spacingAndGlyphs">International</tspan> <tspan x="135.67" textLength="25.22" lengthAdjust="spacingAndGlyphs">Standard</tspan> <tspan x="164.01" textLength="26.34" lengthAdjust="spacingAndGlyphs">Industrial</tspan> <tspan x="193.46" textLength="42.50" lengthAdjust="spacingAndGlyphs">Classification’s</tspan> <tspan x="239.08" font-style="italic" textLength="10.26" lengthAdjust="spacingAndGlyphs">ISIC</tspan> <tspan x="252.47" textLength="24.03" lengthAdjust="spacingAndGlyphs">(revision</tspan> <tspan x="279.62" textLength="5.56" lengthAdjust="spacingAndGlyphs">4)</tspan> <tspan x="288.30" textLength="28.67" lengthAdjust="spacingAndGlyphs">definition.</tspan> <tspan x="320.08" textLength="13.09" lengthAdjust="spacingAndGlyphs">Data</tspan> <tspan x="336.29" textLength="13.58" lengthAdjust="spacingAndGlyphs">from</tspan> <tspan x="353.00" textLength="14.44" lengthAdjust="spacingAndGlyphs">date:</tspan> <tspan x="370.56" textLength="13.91" lengthAdjust="spacingAndGlyphs">2021</tspan> <tspan x="387.59" textLength="11.48" lengthAdjust="spacingAndGlyphs">(Isle</tspan> <tspan x="402.19" textLength="5.71" lengthAdjust="spacingAndGlyphs">of</tspan> <tspan x="411.02" textLength="14.47" lengthAdjust="spacingAndGlyphs">Man,</tspan> <tspan x="428.61" textLength="37.26" lengthAdjust="spacingAndGlyphs">Liechtenstein</tspan> <tspan x="468.99" textLength="13.58" lengthAdjust="spacingAndGlyphs">from</tspan> <tspan x="485.69" textLength="15.75" lengthAdjust="spacingAndGlyphs">2019;</tspan> <tspan x="504.56" textLength="24.58" lengthAdjust="spacingAndGlyphs">Andorra,</tspan> <tspan x="532.26" textLength="10.04" lengthAdjust="spacingAndGlyphs">San</tspan></text>
<text x="6.0" y="562.5" font-size="6.4" textLength="436.4" lengthAdjust="spacingAndGlyphs" fill="#000" stroke="#000">Marino from 2020), currency converter 2023 10th May, no data for Åland Islands, Channel Islands, Gibraltar, Holy See, Svalbard and Jan Mayen Islands.</text>
<text x="6.0" y="572.0" font-size="6.4" textLength="199.2" lengthAdjust="spacingAndGlyphs" fill="#000" stroke="#000">d) data from 2020, for Holy See 2017, for Channel Islands from 2019.</text>
<text x="6.0" y="581.7" font-size="6.4" textLength="75.7" lengthAdjust="spacingAndGlyphs" fill="#000" stroke="#000">e) data from August, 2023</text>
</svg>
</body></html>
